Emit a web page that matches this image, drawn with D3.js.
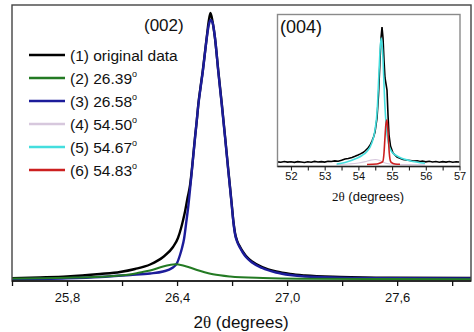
<!DOCTYPE html>
<html><head><meta charset="utf-8">
<script src="https://cdn.jsdelivr.net/npm/d3@7"></script>
<style>
body{margin:0;background:#fff}
svg{display:block}
text{font-family:"Liberation Sans",Arial,Helvetica,sans-serif;fill:#111}
</style>
</head><body>
<svg id="c" width="474" height="332"></svg>
<script>
// ---------- main panel data: [2theta (deg), intensity (a.u.)] ----------
const mainOriginal = [
 [25.500,2.7],[25.653,3.5],[25.800,4.5],[25.980,7],[26.089,9],[26.171,12],[26.253,16.5],
 [26.324,24],[26.378,34],[26.405,43],[26.422,53],[26.433,61],[26.444,70],[26.457,83],
 [26.471,96],[26.480,110],[26.489,127],[26.498,144],[26.508,161],[26.516,177],[26.528,194],
 [26.540,210],[26.551,227],[26.562,244],[26.572,259],[26.582,268],[26.593,260],[26.606,244],
 [26.625,210],[26.644,177],[26.662,144],[26.680,110],[26.698,77],[26.707,60],[26.716,48],
 [26.727,40.5],[26.744,34],[26.760,29],[26.776,25],[26.809,19.5],[26.864,14],[26.940,9.5],
 [27.016,7],[27.098,5.5],[27.289,4],[27.562,3.2],[28.004,3]
];
const mainPeak2639 = [
 [25.500,2.5],[25.800,3.3],[25.980,4.3],[26.144,6.5],[26.198,8.5],[26.253,10.5],[26.324,14.5],
 [26.360,16],[26.389,16.7],[26.433,15.5],[26.470,13.5],[26.509,11],[26.550,8.8],[26.596,6.7],
 [26.689,4.5],[26.869,3],[27.071,2.3],[27.507,2],[28.004,1.8]
];
const mainPeak2658 = [
 [25.500,1.7],[25.800,2.7],[25.980,4],[26.144,6],[26.253,7.5],[26.324,9.5],[26.373,13],
 [26.400,18],[26.416,26],[26.427,33],[26.438,42],[26.449,57],[26.462,76],[26.471,92],
 [26.480,109],[26.489,126],[26.498,143],[26.507,160],[26.516,176],[26.528,193],[26.540,209],
 [26.551,226],[26.562,243],[26.573,256],[26.583,261],[26.594,258],[26.607,243],[26.625,209],
 [26.644,176],[26.662,143],[26.680,109],[26.698,76],[26.707,59],[26.716,47],[26.727,39.5],
 [26.744,33],[26.760,28],[26.776,24],[26.809,18.5],[26.864,13],[26.940,8.5],[27.016,6],
 [27.098,4.5],[27.289,3.3],[27.562,2.7],[28.004,2.5]
];
const mainTicks = [25.5,25.8,26.1,26.4,26.7,27.0,27.3,27.6,27.9];
const mainTickLabels = {"25.8":"25,8","26.4":"26,4","27":"27,0","27.6":"27,6"};

// ---------- inset panel data ----------
const insetOriginal = [
 [51.60,4.6],[51.70,4.2],[51.80,5.0],[51.90,4.4],[52.00,4.8],[52.10,4.1],[52.20,4.9],[52.30,4.5],
 [52.40,4.0],[52.50,4.8],[52.60,4.3],[52.70,5.1],[52.80,4.5],[52.90,4.9],[53.00,4.4],[53.10,5.2],
 [53.20,5.0],[53.30,5.6],[53.40,5.3],[53.50,6.2],[53.603,7.5],[53.70,8.0],[53.81,9.0],[53.90,10.2],
 [53.99,11.5],[54.06,12.6],[54.137,14],[54.21,16],[54.285,18.5],[54.35,21.5],[54.404,25.5],
 [54.45,29.5],[54.493,34.5],[54.553,48.5],[54.597,71.5],[54.636,101.5],[54.671,128.5],
 [54.701,139.5],[54.731,128.5],[54.760,106.5],[54.790,88.5],[54.820,82.5],[54.849,76.5],
 [54.879,51.5],[54.909,31.5],[54.953,20.5],[55.027,13.5],[55.146,9.5],[55.25,8.0],[55.324,7.0],
 [55.42,6.5],[55.532,6.0],[55.65,5.4],[55.75,5.8],[55.83,5.0],[55.90,5.4],[56.00,4.6],[56.10,5.2],
 [56.20,4.5],[56.30,5.0],[56.40,4.3],[56.50,4.9],[56.60,4.4],[56.70,5.0],[56.80,4.2],[56.90,4.8],[57.00,4.5]
];
const insetPeak5450 = [
 [53.35,1.8],[53.70,2.5],[54.00,3.5],[54.20,4.8],[54.35,6.2],[54.50,7],[54.62,6.2],[54.72,4.5],
 [54.85,3],[55.10,2.2],[55.50,1.8],[55.98,1.6]
];
const insetPeak5467 = [
 [53.357,2.5],[53.603,4],[53.950,8.2],[54.107,11],[54.247,14.8],[54.395,23.2],[54.493,36.5],
 [54.558,56.5],[54.605,89.8],[54.647,118.5],[54.677,128.5],[54.716,116.5],[54.751,89.8],
 [54.783,63.5],[54.828,39.8],[54.894,23.2],[54.988,14.8],[55.185,9.8],[55.532,5.8],[55.977,3.2]
];
const insetPeak5483 = [
 [54.256,2],[54.544,2.5],[54.642,3.5],[54.722,4.8],[54.760,13.5],[54.790,29.8],[54.814,41.5],
 [54.841,46.5],[54.864,41.5],[54.888,29.8],[54.917,13.2],[54.959,4.8],[55.027,3],[55.087,2.5],[55.235,2.2]
];
const insetTicks = [52,52.5,53,53.5,54,54.5,55,55.5,56,56.5,57];

// ---------- legend ----------
const legendLabels = ["(1) original data","(2) 26.39","(3) 26.58","(4) 54.50","(5) 54.67","(6) 54.83"];
const legendDegree = [false,true,true,true,true,true];
const seriesColors = ["#000000","#237a23","#1c1c9a","#d7c8dd","#44dede","#cc2020"];

const svg = d3.select("#c");

// ===== main panel =====
const x = d3.scaleLinear().domain([25.5,28.0]).range([12,470.5]);
const y = d3.scaleLinear().domain([0,276]).range([281,5]);
const [mx0,mx1] = [12,471], [my0,my1] = [5,281];

svg.append("clipPath").attr("id","mclip").append("rect")
  .attr("x",mx0).attr("y",my0).attr("width",mx1-mx0).attr("height",my1-my0);

const line = d3.line().x(d=>x(d[0])).y(d=>y(d[1])).curve(d3.curveMonotoneX);
const gm = svg.append("g").attr("clip-path","url(#mclip)");
gm.append("path").datum(mainOriginal).attr("d",line).attr("fill","none")
  .attr("stroke",seriesColors[0]).attr("stroke-width",2.4);
gm.append("path").datum(mainPeak2658).attr("d",line).attr("fill","none")
  .attr("stroke",seriesColors[2]).attr("stroke-width",2.4);
gm.append("path").datum(mainPeak2639).attr("d",line).attr("fill","none")
  .attr("stroke",seriesColors[1]).attr("stroke-width",2);

// frame
svg.append("rect").attr("x",mx0).attr("y",my0).attr("width",mx1-mx0).attr("height",my1-my0)
  .attr("fill","none").attr("stroke","#444").attr("stroke-width",1.4);
svg.append("line").attr("x1",mx0).attr("x2",mx1).attr("y1",my1).attr("y2",my1)
  .attr("stroke","#111").attr("stroke-width",1.6);

const ax = svg.append("g").attr("transform",`translate(0,${my1})`)
  .call(d3.axisBottom(x).tickValues(mainTicks).tickSize(5).tickPadding(7)
    .tickFormat(d=>mainTickLabels[String(+d.toFixed(1))]||""));
ax.select(".domain").remove();
ax.selectAll(".tick line").attr("stroke","#111").attr("stroke-width",1.3);
ax.selectAll(".tick text").attr("font-size",13).attr("fill","#111")
  .attr("font-family","Liberation Sans, Arial, sans-serif");

const xt = svg.append("text").attr("x",241).attr("y",328).attr("text-anchor","middle")
  .attr("font-size",17);
xt.append("tspan").text("2");
xt.append("tspan").attr("font-family","Liberation Serif, Times New Roman, serif").text("θ");
xt.append("tspan").text(" (degrees)");

svg.append("text").attr("x",144).attr("y",31).attr("font-size",17).text("(002)");

// legend
const lg = svg.append("g");
legendLabels.forEach((lab,i)=>{
  const ly = 55 + i*23;
  lg.append("line").attr("x1",29).attr("x2",65).attr("y1",ly).attr("y2",ly)
    .attr("stroke",seriesColors[i]).attr("stroke-width",2.4);
  const t = lg.append("text").attr("x",70).attr("y",ly+5.5).attr("font-size",15.5);
  t.append("tspan").text(lab);
  if(legendDegree[i]) t.append("tspan").attr("font-size",9).attr("dy",-7).text("o");
});

// ===== inset =====
const xi = d3.scaleLinear().domain([51.6,57.0]).range([277.5,459.5]);
const yi = d3.scaleLinear().domain([0,152]).range([166.5,14.5]);
const [ix0,ix1,iy0,iy1] = [277.5,460,14.5,166.5];

svg.append("rect").attr("x",ix0).attr("y",iy0).attr("width",ix1-ix0).attr("height",iy1-iy0)
  .attr("fill","#fff");
svg.append("clipPath").attr("id","iclip").append("rect")
  .attr("x",ix0).attr("y",iy0).attr("width",ix1-ix0).attr("height",iy1-iy0);
const gi = svg.append("g").attr("clip-path","url(#iclip)");
const lineI = d3.line().x(d=>xi(d[0])).y(d=>yi(d[1])).curve(d3.curveLinear);
const lineIs = d3.line().x(d=>xi(d[0])).y(d=>yi(d[1])).curve(d3.curveMonotoneX);
gi.append("path").datum(insetOriginal).attr("d",lineI).attr("fill","none")
  .attr("stroke",seriesColors[0]).attr("stroke-width",1.6);
gi.append("path").datum(insetPeak5450).attr("d",lineIs).attr("fill","none")
  .attr("stroke",seriesColors[3]).attr("stroke-width",1.2);
gi.append("path").datum(insetPeak5467).attr("d",lineIs).attr("fill","none")
  .attr("stroke",seriesColors[4]).attr("stroke-width",1.6);
gi.append("path").datum(insetPeak5483).attr("d",lineIs).attr("fill","none")
  .attr("stroke",seriesColors[5]).attr("stroke-width",1.6);

svg.append("rect").attr("x",ix0).attr("y",iy0).attr("width",ix1-ix0).attr("height",iy1-iy0)
  .attr("fill","none").attr("stroke","#8a8a8a").attr("stroke-width",1.4);
svg.append("line").attr("x1",ix0).attr("x2",ix1).attr("y1",iy1).attr("y2",iy1)
  .attr("stroke","#222").attr("stroke-width",1.4);

const axi = svg.append("g").attr("transform",`translate(0,${iy1})`)
  .call(d3.axisBottom(xi).tickValues(insetTicks).tickSize(4).tickPadding(2)
    .tickFormat(d=>Number.isInteger(d)?String(d):""));
axi.select(".domain").remove();
axi.selectAll(".tick line").attr("stroke","#222").attr("stroke-width",1.1);
axi.selectAll(".tick text").attr("font-size",11).attr("fill","#111")
  .attr("font-family","Liberation Sans, Arial, sans-serif");

const xti = svg.append("text").attr("x",368).attr("y",201).attr("text-anchor","middle")
  .attr("font-size",13);
xti.append("tspan").attr("font-family","Liberation Serif, Times New Roman, serif").text("2θ");
xti.append("tspan").text(" (degrees)");

svg.append("text").attr("x",280).attr("y",33).attr("font-size",18).text("(004)");
</script>
</body></html>
